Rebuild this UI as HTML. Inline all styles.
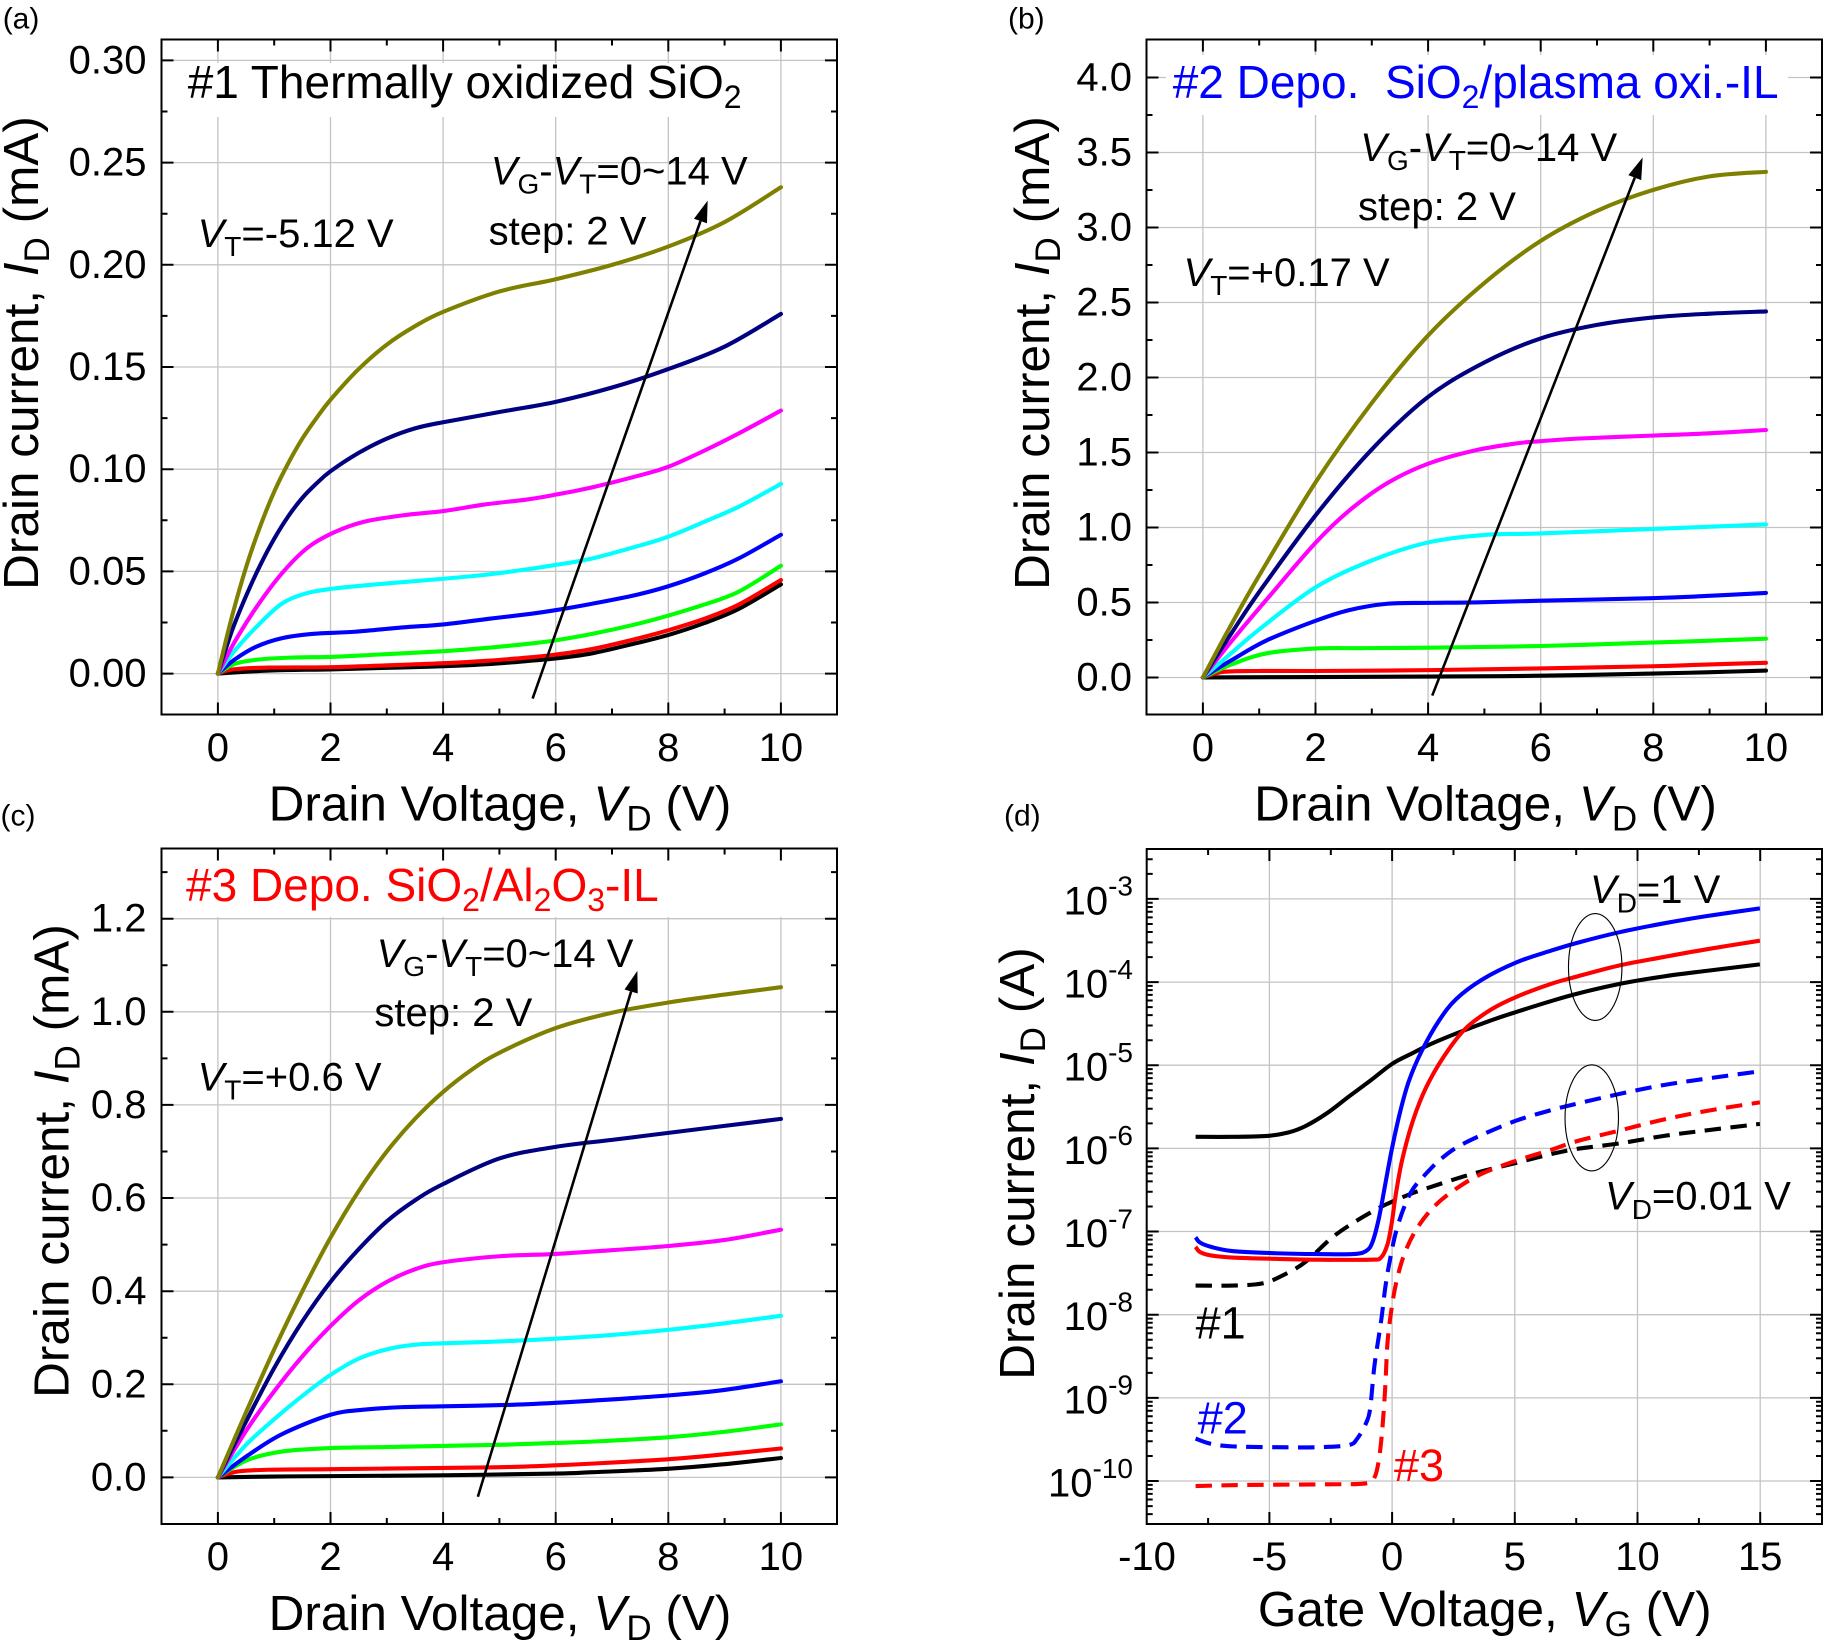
<!DOCTYPE html>
<html><head><meta charset="utf-8"><style>
html,body{margin:0;padding:0;background:#fff;}
svg{display:block;font-family:"Liberation Sans",Arial,sans-serif;}
</style></head><body>
<svg id="fig" width="1825" height="1644" viewBox="0 0 1825 1644" xmlns="http://www.w3.org/2000/svg">
<rect width="1825" height="1644" fill="#fff"/>

<!-- ================= PANEL A ================= -->
<g stroke="#c4c4c4" stroke-width="1.3" fill="none">
<path d="M217.9 39.5V714.5M330.5 39.5V714.5M443.1 39.5V714.5M555.7 39.5V714.5M668.3 39.5V714.5M780.9 39.5V714.5"/>
<path d="M161.5 673.6H837M161.5 571.4H837M161.5 469.2H837M161.5 367H837M161.5 264.8H837M161.5 162.6H837M161.5 60.4H837"/>
</g>
<rect x="183" y="63" width="572" height="54" fill="#fff"/>
<g transform="translate(161,39) scale(0.4311)" fill="none" stroke-width="9.5" stroke-linejoin="round" stroke-linecap="round">
<polyline class="s" stroke="#000" points="132,1472 250,1465 400,1462 550,1458 655,1455 760,1450 860,1442 915,1437 1000,1425 1100,1402 1175,1383 1260,1355 1340,1322 1438,1265"/>
<polyline class="s" stroke="#f00" points="132,1472 170,1462 250,1458 400,1457 550,1452 655,1448 760,1442 860,1434 915,1428 1000,1415 1100,1392 1175,1372 1260,1345 1340,1312 1438,1255"/>
<polyline class="s" stroke="#00ff00" points="132,1472 170,1450 220,1440 300,1435 400,1433 500,1428 655,1420 760,1412 860,1402 915,1395 1000,1380 1100,1358 1175,1338 1260,1312 1340,1282 1438,1222"/>
<polyline class="s" stroke="#00f" points="132,1472 170,1440 220,1410 280,1390 350,1380 450,1375 560,1365 655,1358 760,1345 860,1333 915,1325 1000,1310 1100,1290 1175,1270 1260,1240 1340,1205 1438,1150"/>
<polyline class="s" stroke="#0ff" points="132,1472 170,1420 220,1365 280,1310 340,1285 400,1275 500,1265 655,1252 750,1243 850,1230 915,1220 1000,1205 1100,1178 1175,1155 1260,1120 1340,1085 1438,1032"/>
<polyline class="s" stroke="#f0f" points="132,1472 170,1400 220,1320 280,1240 340,1180 400,1145 470,1120 560,1105 655,1095 750,1080 850,1068 915,1057 1000,1040 1100,1015 1175,993 1260,955 1340,915 1438,862"/>
<polyline class="s" stroke="#000080" points="132,1472 164.7,1372.5 197.3,1291.9 230,1220.8 262.6,1159.2 295.3,1107 327.9,1064.4 360.5,1031.2 393.2,1002.7 458.5,960.1 523.8,926.9 589.1,903.2 654.4,888.9 785,865.3 915.6,841.6 1046.2,808.4 1176.8,765.7 1307.4,713.6 1438,637.8"/>
<polyline class="s" stroke="#808000" points="132,1472 164.7,1339.3 197.3,1225.5 230,1130.7 262.6,1050.1 295.3,983.8 327.9,926.9 360.5,879.5 393.2,836.8 458.5,765.7 523.8,708.9 589.1,666.2 654.4,633 785,585.6 915.6,557.2 1046.2,524 1176.8,481.3 1307.4,424.5 1438,343.9"/>
<line x1="862" y1="1530" x2="1251.4" y2="422.2" stroke="#000" stroke-width="6" stroke-linecap="butt"/>
<polygon points="1268,375 1266.5,427.5 1236.3,416.9" fill="#000" stroke="none"/>
</g>
<g stroke="#000" stroke-width="2" fill="none">
<rect x="161.5" y="39.5" width="675.5" height="675"/>
<path d="M217.9 714.5v-12M330.5 714.5v-12M443.1 714.5v-12M555.7 714.5v-12M668.3 714.5v-12M780.9 714.5v-12M274.2 714.5v-6M386.8 714.5v-6M499.4 714.5v-6M612 714.5v-6M724.6 714.5v-6"/>
<path d="M217.9 39.5v12M330.5 39.5v12M443.1 39.5v12M555.7 39.5v12M668.3 39.5v12M780.9 39.5v12M274.2 39.5v6M386.8 39.5v6M499.4 39.5v6M612 39.5v6M724.6 39.5v6"/>
<path d="M161.5 673.6h12M161.5 571.4h12M161.5 469.2h12M161.5 367h12M161.5 264.8h12M161.5 162.6h12M161.5 60.4h12M161.5 622.5h6M161.5 520.3h6M161.5 418.1h6M161.5 315.9h6M161.5 213.7h6M161.5 111.5h6"/>
<path d="M837 673.6h-12M837 571.4h-12M837 469.2h-12M837 367h-12M837 264.8h-12M837 162.6h-12M837 60.4h-12M837 622.5h-6M837 520.3h-6M837 418.1h-6M837 315.9h-6M837 213.7h-6M837 111.5h-6"/>
</g>
<g font-size="40" fill="#000">
<g text-anchor="end">
<text x="146.5" y="686.6">0.00</text><text x="146.5" y="584.4">0.05</text><text x="146.5" y="482.2">0.10</text><text x="146.5" y="380">0.15</text><text x="146.5" y="277.8">0.20</text><text x="146.5" y="175.6">0.25</text><text x="146.5" y="73.4">0.30</text>
</g>
<g text-anchor="middle">
<text x="217.9" y="761">0</text><text x="330.5" y="761">2</text><text x="443.1" y="761">4</text><text x="555.7" y="761">6</text><text x="668.3" y="761">8</text><text x="780.9" y="761">10</text>
</g>
<text x="197.6" y="247.2"><tspan font-style="italic">V</tspan><tspan font-size="28" dy="9">T</tspan><tspan dy="-9">=-5.12 V</tspan></text>
<text x="490.8" y="184.7"><tspan font-style="italic">V</tspan><tspan font-size="28" dy="9">G</tspan><tspan dy="-9">-</tspan><tspan font-style="italic">V</tspan><tspan font-size="28" dy="9">T</tspan><tspan dy="-9">=0~14 V</tspan></text>
<text x="488.6" y="244.6">step: 2 V</text>
</g>
<text x="187.7" y="98" font-size="46">#1 Thermally oxidized SiO<tspan font-size="32" dy="10">2</tspan></text>
<text x="2.7" y="28.6" font-size="30">(a)</text>
<text transform="translate(38,353) rotate(-90)" text-anchor="middle" font-size="49.5">Drain current, <tspan font-style="italic">I</tspan><tspan font-size="35" dy="11">D</tspan><tspan dy="-11"> (mA)</tspan></text>
<text x="500" y="820.5" text-anchor="middle" font-size="49.5">Drain Voltage, <tspan font-style="italic">V</tspan><tspan font-size="35" dy="10">D</tspan><tspan dy="-10"> (V)</tspan></text>

<!-- ================= PANEL B ================= -->
<g stroke="#c4c4c4" stroke-width="1.3" fill="none">
<path d="M1202.9 39.5V714.5M1315.5 39.5V714.5M1428.1 39.5V714.5M1540.7 39.5V714.5M1653.3 39.5V714.5M1765.9 39.5V714.5"/>
<path d="M1146.5 677.5H1822M1146.5 602.5H1822M1146.5 527.5H1822M1146.5 452.5H1822M1146.5 377.5H1822M1146.5 302.5H1822M1146.5 227.5H1822M1146.5 152.5H1822M1146.5 77.5H1822"/>
</g>
<rect x="1166" y="55" width="622" height="60" fill="#fff"/>
<g transform="translate(1146,39) scale(0.4311)" fill="none" stroke-width="9.5" stroke-linejoin="round" stroke-linecap="round">
<polyline class="s" stroke="#000" points="132,1481 392,1480 655,1479 915,1477 1175,1472 1300,1469 1438,1465"/>
<polyline class="s" stroke="#f00" points="132,1481 180,1468 260,1466 392,1466 655,1464 915,1460 1175,1455 1300,1451 1438,1447"/>
<polyline class="s" stroke="#00ff00" points="132,1481 200,1450 280,1425 392,1414 500,1413 655,1412 915,1408 1175,1400 1300,1396 1438,1391"/>
<polyline class="s" stroke="#00f" points="132,1481 200,1440 280,1395 392,1350 470,1325 560,1310 655,1308 760,1307 915,1303 1175,1297 1300,1292 1438,1285"/>
<polyline class="s" stroke="#0ff" points="132,1481 197.3,1425 262.6,1369.6 393.2,1272 523.8,1209.6 654.4,1167.8 785,1150.4 915.6,1146.9 1176.8,1136.5 1438,1126"/>
<polyline class="s" stroke="#f0f" points="132,1481 200,1395 280,1300 392,1170 470,1095 560,1030 655,985 760,955 860,938 915,933 1000,927 1175,920 1300,915 1438,907"/>
<polyline class="s" stroke="#000080" points="132,1481 197.3,1380 262.6,1282.6 393.2,1105.2 523.8,952 654.4,830.2 785,750.2 915.6,694.5 1046.2,663.2 1176.8,645.8 1307.4,637.1 1438,631.9"/>
<polyline class="s" stroke="#808000" points="132,1481 197.3,1359.2 262.6,1244.4 393.2,1028.6 523.8,844.2 654.4,687.6 785,565.8 915.6,468.3 1046.2,398.7 1176.8,350 1307.4,318.7 1438,308.2"/>
<line x1="664" y1="1523" x2="1133.8" y2="321.6" stroke="#000" stroke-width="6" stroke-linecap="butt"/>
<polygon points="1152,275 1148.7,327.4 1118.9,315.8" fill="#000" stroke="none"/>
</g>
<g stroke="#000" stroke-width="2" fill="none">
<rect x="1146.5" y="39.5" width="675.5" height="675"/>
<path d="M1202.9 714.5v-12M1315.5 714.5v-12M1428.1 714.5v-12M1540.7 714.5v-12M1653.3 714.5v-12M1765.9 714.5v-12M1259.2 714.5v-6M1371.8 714.5v-6M1484.4 714.5v-6M1597 714.5v-6M1709.6 714.5v-6"/>
<path d="M1202.9 39.5v12M1315.5 39.5v12M1428.1 39.5v12M1540.7 39.5v12M1653.3 39.5v12M1765.9 39.5v12M1259.2 39.5v6M1371.8 39.5v6M1484.4 39.5v6M1597 39.5v6M1709.6 39.5v6"/>
<path d="M1146.5 677.5h12M1146.5 602.5h12M1146.5 527.5h12M1146.5 452.5h12M1146.5 377.5h12M1146.5 302.5h12M1146.5 227.5h12M1146.5 152.5h12M1146.5 77.5h12M1146.5 640h6M1146.5 565h6M1146.5 490h6M1146.5 415h6M1146.5 340h6M1146.5 265h6M1146.5 190h6M1146.5 115h6"/>
<path d="M1822 677.5h-12M1822 602.5h-12M1822 527.5h-12M1822 452.5h-12M1822 377.5h-12M1822 302.5h-12M1822 227.5h-12M1822 152.5h-12M1822 77.5h-12M1822 640h-6M1822 565h-6M1822 490h-6M1822 415h-6M1822 340h-6M1822 265h-6M1822 190h-6M1822 115h-6"/>
</g>
<g font-size="40" fill="#000">
<g text-anchor="end">
<text x="1132" y="690.5">0.0</text><text x="1132" y="615.5">0.5</text><text x="1132" y="540.5">1.0</text><text x="1132" y="465.5">1.5</text><text x="1132" y="390.5">2.0</text><text x="1132" y="315.5">2.5</text><text x="1132" y="240.5">3.0</text><text x="1132" y="165.5">3.5</text><text x="1132" y="90.5">4.0</text>
</g>
<g text-anchor="middle">
<text x="1202.9" y="761">0</text><text x="1315.5" y="761">2</text><text x="1428.1" y="761">4</text><text x="1540.7" y="761">6</text><text x="1653.3" y="761">8</text><text x="1765.9" y="761">10</text>
</g>
<text x="1183.5" y="286"><tspan font-style="italic">V</tspan><tspan font-size="28" dy="9">T</tspan><tspan dy="-9">=+0.17 V</tspan></text>
<text x="1360.3" y="161"><tspan font-style="italic">V</tspan><tspan font-size="28" dy="9">G</tspan><tspan dy="-9">-</tspan><tspan font-style="italic">V</tspan><tspan font-size="28" dy="9">T</tspan><tspan dy="-9">=0~14 V</tspan></text>
<text x="1358" y="220">step: 2 V</text>
</g>
<text x="1172.7" y="98" font-size="46" fill="#0000ff">#2 Depo.&#160; SiO<tspan font-size="32" dy="10">2</tspan><tspan dy="-10">/plasma oxi.-IL</tspan></text>
<text x="1008" y="28.6" font-size="30">(b)</text>
<text transform="translate(1049,353) rotate(-90)" text-anchor="middle" font-size="49.5">Drain current, <tspan font-style="italic">I</tspan><tspan font-size="35" dy="11">D</tspan><tspan dy="-11"> (mA)</tspan></text>
<text x="1485.5" y="820.5" text-anchor="middle" font-size="49.5">Drain Voltage, <tspan font-style="italic">V</tspan><tspan font-size="35" dy="10">D</tspan><tspan dy="-10"> (V)</tspan></text>

<!-- ================= PANEL C ================= -->
<g stroke="#c4c4c4" stroke-width="1.3" fill="none">
<path d="M217.9 848.5V1524M330.5 848.5V1524M443.1 848.5V1524M555.7 848.5V1524M668.3 848.5V1524M780.9 848.5V1524"/>
<path d="M161.5 1477.4H837M161.5 1384.3H837M161.5 1291.2H837M161.5 1198H837M161.5 1104.9H837M161.5 1011.8H837M161.5 918.7H837"/>
</g>
<rect x="178" y="851" width="626" height="66" fill="#fff"/>
<g transform="translate(161,848) scale(0.4311)" fill="none" stroke-width="9.5" stroke-linejoin="round" stroke-linecap="round">
<polyline class="s" stroke="#000" points="132,1460 260,1458 392,1457 655,1455 915,1451 1000,1448 1175,1440 1300,1430 1438,1415"/>
<polyline class="s" stroke="#f00" points="132,1460 180,1446 260,1442 392,1441 655,1438 800,1436 915,1432 1000,1428 1175,1418 1300,1407 1438,1393"/>
<polyline class="s" stroke="#00ff00" points="132,1460 200,1420 280,1400 392,1392 500,1390 655,1387 800,1384 915,1380 1000,1377 1175,1367 1300,1355 1438,1337"/>
<polyline class="s" stroke="#00f" points="132,1460 200,1410 280,1360 392,1315 470,1303 560,1297 655,1295 800,1292 915,1287 1000,1282 1175,1270 1300,1258 1438,1237"/>
<polyline class="s" stroke="#0ff" points="132,1460 197.3,1384.4 262.6,1325 327.9,1271 393.2,1222.4 458.5,1184.6 523.8,1163 589.1,1152.2 654.4,1149 785,1144.6 915.6,1138.2 1046.2,1129.5 1176.8,1117.6 1307.4,1102.5 1438,1085.2"/>
<polyline class="s" stroke="#f0f" points="132,1460 197.3,1352 262.6,1260.2 327.9,1179.2 393.2,1109 458.5,1049.6 523.8,1006.4 589.1,977.2 654.4,961 785,947 915.6,941.6 1046.2,932.9 1176.8,923.2 1307.4,909.2 1438,885.4"/>
<polyline class="s" stroke="#000080" points="132,1460 197.3,1330.4 262.6,1206.2 327.9,1098.2 393.2,1006.4 458.5,930.8 523.8,866 589.1,817.4 654.4,779.6 785,720.2 915.6,693.2 1046.2,677 1176.8,660.8 1307.4,644.6 1438,628.4"/>
<polyline class="s" stroke="#808000" points="132,1460 197.3,1308.8 262.6,1163 327.9,1028 393.2,903.8 458.5,795.8 523.8,704 589.1,628.4 654.4,565.8 719.7,515 785,475 915.6,417.8 1046.2,382.2 1176.8,358.4 1307.4,340 1438,322.8"/>
<line x1="735" y1="1505" x2="1090.5" y2="332.8" stroke="#000" stroke-width="6" stroke-linecap="butt"/>
<polygon points="1105,285 1105.8,337.4 1075.2,328.2" fill="#000" stroke="none"/>
</g>
<g stroke="#000" stroke-width="2" fill="none">
<rect x="161.5" y="848.5" width="675.5" height="675.5"/>
<path d="M217.9 1524v-12M330.5 1524v-12M443.1 1524v-12M555.7 1524v-12M668.3 1524v-12M780.9 1524v-12M274.2 1524v-6M386.8 1524v-6M499.4 1524v-6M612 1524v-6M724.6 1524v-6"/>
<path d="M217.9 848.5v12M330.5 848.5v12M443.1 848.5v12M555.7 848.5v12M668.3 848.5v12M780.9 848.5v12M274.2 848.5v6M386.8 848.5v6M499.4 848.5v6M612 848.5v6M724.6 848.5v6"/>
<path d="M161.5 1477.4h12M161.5 1384.3h12M161.5 1291.2h12M161.5 1198h12M161.5 1104.9h12M161.5 1011.8h12M161.5 918.7h12M161.5 1430.8h6M161.5 1337.7h6M161.5 1244.6h6M161.5 1151.5h6M161.5 1058.4h6M161.5 965.2h6M161.5 872.1h6"/>
<path d="M837 1477.4h-12M837 1384.3h-12M837 1291.2h-12M837 1198h-12M837 1104.9h-12M837 1011.8h-12M837 918.7h-12M837 1430.8h-6M837 1337.7h-6M837 1244.6h-6M837 1151.5h-6M837 1058.4h-6M837 965.2h-6M837 872.1h-6"/>
</g>
<g font-size="40" fill="#000">
<g text-anchor="end">
<text x="146.5" y="1490.4">0.0</text><text x="146.5" y="1397.3">0.2</text><text x="146.5" y="1304.2">0.4</text><text x="146.5" y="1211">0.6</text><text x="146.5" y="1117.9">0.8</text><text x="146.5" y="1024.8">1.0</text><text x="146.5" y="931.7">1.2</text>
</g>
<g text-anchor="middle">
<text x="217.9" y="1570">0</text><text x="330.5" y="1570">2</text><text x="443.1" y="1570">4</text><text x="555.7" y="1570">6</text><text x="668.3" y="1570">8</text><text x="780.9" y="1570">10</text>
</g>
<text x="197.6" y="1090.7"><tspan font-style="italic">V</tspan><tspan font-size="28" dy="9">T</tspan><tspan dy="-9">=+0.6 V</tspan></text>
<text x="376.6" y="967"><tspan font-style="italic">V</tspan><tspan font-size="28" dy="9">G</tspan><tspan dy="-9">-</tspan><tspan font-style="italic">V</tspan><tspan font-size="28" dy="9">T</tspan><tspan dy="-9">=0~14 V</tspan></text>
<text x="374.4" y="1026">step: 2 V</text>
</g>
<text x="186" y="901" font-size="46" fill="#ff0000">#3 Depo. SiO<tspan font-size="32" dy="10">2</tspan><tspan dy="-10">/Al</tspan><tspan font-size="32" dy="10">2</tspan><tspan dy="-10">O</tspan><tspan font-size="32" dy="10">3</tspan><tspan dy="-10">-IL</tspan></text>
<text x="0.5" y="825.6" font-size="30">(c)</text>
<text transform="translate(68.6,1161) rotate(-90)" text-anchor="middle" font-size="49.5">Drain current, <tspan font-style="italic">I</tspan><tspan font-size="35" dy="11">D</tspan><tspan dy="-11"> (mA)</tspan></text>
<text x="500" y="1630" text-anchor="middle" font-size="49.5">Drain Voltage, <tspan font-style="italic">V</tspan><tspan font-size="35" dy="10">D</tspan><tspan dy="-10"> (V)</tspan></text>

<!-- ================= PANEL D ================= -->
<g stroke="#c4c4c4" stroke-width="1.3" fill="none">
<path d="M1269.4 849V1524M1392.1 849V1524M1514.8 849V1524M1637.5 849V1524M1760.2 849V1524"/>
<path d="M1146.7 898.9H1822M1146.7 982.1H1822M1146.7 1065.2H1822M1146.7 1148.4H1822M1146.7 1231.5H1822M1146.7 1314.7H1822M1146.7 1397.9H1822M1146.7 1481H1822"/>
</g>
<g transform="translate(1146,848) scale(0.4311)" fill="none" stroke-width="9.5" stroke-linejoin="round">
<polyline class="s" stroke="#000" stroke-dasharray="38 22" points="115,1015 200,1015 270,1010 320,990 370,960 430,905 480,870 540,835 572,820 620,800 680,780 760,755 860,730 940,710 1000,698 1100,685 1200,668 1300,655 1424,640"/>
<polyline class="s" stroke="#f00" stroke-dasharray="38 22" points="115,1480 200,1478 300,1477 420,1476 510,1474 530,1460 540,1420 548,1350 555,1250 560,1150 568,1080 580,1010 600,940 630,880 670,830 720,790 780,755 860,725 940,700 1000,680 1100,655 1200,630 1300,610 1424,590"/>
<polyline class="s" stroke="#00f" stroke-dasharray="38 22" points="115,1370 150,1382 200,1388 300,1390 400,1390 470,1385 490,1370 510,1335 520,1300 530,1200 545,1100 555,1020 565,960 580,890 600,830 620,790 650,755 680,725 720,695 780,665 860,632 940,608 1000,593 1100,570 1200,550 1300,535 1424,518"/>
<polyline class="s" stroke="#000" points="115,670 200,670 280,668 330,660 370,645 420,615 470,577 520,540 572,500 620,475 660,455 720,430 800,400 860,380 940,355 1000,338 1100,315 1200,298 1300,285 1424,270"/>
<polyline class="s" stroke="#f00" points="115,925 125,937 150,945 200,950 300,953 400,955 520,955 545,950 560,920 570,870 580,800 595,720 620,630 650,555 690,485 740,420 800,375 860,345 940,315 1000,298 1100,272 1200,253 1300,235 1424,215"/>
<polyline class="s" stroke="#00f" points="115,903 125,915 150,925 200,935 300,940 400,942 480,942 510,935 525,915 540,860 555,780 570,700 590,610 610,540 640,470 680,400 720,350 780,305 860,265 940,238 1000,220 1100,195 1200,175 1300,158 1424,140"/>
<ellipse cx="1042" cy="276" rx="62" ry="124" stroke="#000" stroke-width="2.6"/>
<ellipse cx="1034" cy="626" rx="62" ry="123" stroke="#000" stroke-width="2.6"/>
</g>
<g stroke="#000" stroke-width="2" fill="none">
<rect x="1146.7" y="849" width="675.3" height="675"/>
<path d="M1269.4 1524v-12M1392.1 1524v-12M1514.8 1524v-12M1637.5 1524v-12M1760.2 1524v-12M1208.1 1524v-6M1330.8 1524v-6M1453.5 1524v-6M1576.2 1524v-6M1698.9 1524v-6"/>
<path d="M1269.4 849v12M1392.1 849v12M1514.8 849v12M1637.5 849v12M1760.2 849v12M1208.1 849v6M1330.8 849v6M1453.5 849v6M1576.2 849v6M1698.9 849v6"/>
<path d="M1146.7 898.9h12M1146.7 982.1h12M1146.7 1065.2h12M1146.7 1148.4h12M1146.7 1231.5h12M1146.7 1314.7h12M1146.7 1397.9h12M1146.7 1481h12"/>
<path d="M1822 898.9h-12M1822 982.1h-12M1822 1065.2h-12M1822 1148.4h-12M1822 1231.5h-12M1822 1314.7h-12M1822 1397.9h-12M1822 1481h-12"/>
<path d="M1146.7 1514.1h6M1146.7 1506.1h6M1146.7 1499.5h6M1146.7 1493.9h6M1146.7 1489.1h6M1146.7 1484.9h6
M1146.7 1456h6M1146.7 1441.3h6M1146.7 1430.9h6M1146.7 1422.9h6M1146.7 1416.3h6M1146.7 1410.7h6M1146.7 1405.9h6M1146.7 1401.7h6
M1146.7 1372.9h6M1146.7 1358.2h6M1146.7 1347.8h6M1146.7 1339.8h6M1146.7 1333.2h6M1146.7 1327.6h6M1146.7 1322.8h6M1146.7 1318.6h6
M1146.7 1289.7h6M1146.7 1275h6M1146.7 1264.6h6M1146.7 1256.6h6M1146.7 1250h6M1146.7 1244.4h6M1146.7 1239.6h6M1146.7 1235.4h6
M1146.7 1206.5h6M1146.7 1191.8h6M1146.7 1181.4h6M1146.7 1173.4h6M1146.7 1166.8h6M1146.7 1161.2h6M1146.7 1156.4h6M1146.7 1152.2h6
M1146.7 1123.4h6M1146.7 1108.7h6M1146.7 1098.3h6M1146.7 1090.3h6M1146.7 1083.7h6M1146.7 1078.1h6M1146.7 1073.3h6M1146.7 1069.1h6
M1146.7 1040.2h6M1146.7 1025.5h6M1146.7 1015.1h6M1146.7 1007.1h6M1146.7 1000.5h6M1146.7 994.9h6M1146.7 990.1h6M1146.7 985.9h6
M1146.7 957.1h6M1146.7 942.4h6M1146.7 932h6M1146.7 924h6M1146.7 917.4h6M1146.7 911.8h6M1146.7 907h6M1146.7 902.8h6
M1146.7 873.9h6M1146.7 859.2h6"/>
<path d="M1822 1514.1h-6M1822 1506.1h-6M1822 1499.5h-6M1822 1493.9h-6M1822 1489.1h-6M1822 1484.9h-6
M1822 1456h-6M1822 1441.3h-6M1822 1430.9h-6M1822 1422.9h-6M1822 1416.3h-6M1822 1410.7h-6M1822 1405.9h-6M1822 1401.7h-6
M1822 1372.9h-6M1822 1358.2h-6M1822 1347.8h-6M1822 1339.8h-6M1822 1333.2h-6M1822 1327.6h-6M1822 1322.8h-6M1822 1318.6h-6
M1822 1289.7h-6M1822 1275h-6M1822 1264.6h-6M1822 1256.6h-6M1822 1250h-6M1822 1244.4h-6M1822 1239.6h-6M1822 1235.4h-6
M1822 1206.5h-6M1822 1191.8h-6M1822 1181.4h-6M1822 1173.4h-6M1822 1166.8h-6M1822 1161.2h-6M1822 1156.4h-6M1822 1152.2h-6
M1822 1123.4h-6M1822 1108.7h-6M1822 1098.3h-6M1822 1090.3h-6M1822 1083.7h-6M1822 1078.1h-6M1822 1073.3h-6M1822 1069.1h-6
M1822 1040.2h-6M1822 1025.5h-6M1822 1015.1h-6M1822 1007.1h-6M1822 1000.5h-6M1822 994.9h-6M1822 990.1h-6M1822 985.9h-6
M1822 957.1h-6M1822 942.4h-6M1822 932h-6M1822 924h-6M1822 917.4h-6M1822 911.8h-6M1822 907h-6M1822 902.8h-6
M1822 873.9h-6M1822 859.2h-6"/>
</g>
<g font-size="40" fill="#000">
<g text-anchor="end">
<text x="1133" y="914.4">10<tspan font-size="28" dy="-18.7">-3</tspan></text>
<text x="1133" y="997.6">10<tspan font-size="28" dy="-18.7">-4</tspan></text>
<text x="1133" y="1080.7">10<tspan font-size="28" dy="-18.7">-5</tspan></text>
<text x="1133" y="1163.9">10<tspan font-size="28" dy="-18.7">-6</tspan></text>
<text x="1133" y="1247">10<tspan font-size="28" dy="-18.7">-7</tspan></text>
<text x="1133" y="1330.2">10<tspan font-size="28" dy="-18.7">-8</tspan></text>
<text x="1133" y="1413.4">10<tspan font-size="28" dy="-18.7">-9</tspan></text>
<text x="1133" y="1496.5">10<tspan font-size="28" dy="-18.7">-10</tspan></text>
</g>
<g text-anchor="middle">
<text x="1147" y="1570">-10</text><text x="1269.4" y="1570">-5</text><text x="1392.1" y="1570">0</text><text x="1514.8" y="1570">5</text><text x="1637.5" y="1570">10</text><text x="1760.2" y="1570">15</text>
</g>
<text x="1590" y="903"><tspan font-style="italic">V</tspan><tspan font-size="28" dy="9.5">D</tspan><tspan dy="-9.5">=1 V</tspan></text>
<text x="1605" y="1209.3"><tspan font-style="italic">V</tspan><tspan font-size="28" dy="9.5">D</tspan><tspan dy="-9.5">=0.01 V</tspan></text>
</g>
<text x="1195.6" y="1338.6" font-size="45" fill="#000">#1</text>
<text x="1197.7" y="1433.4" font-size="45" fill="#0000ff">#2</text>
<text x="1394" y="1481" font-size="45" fill="#ff0000">#3</text>
<text x="1004" y="825.6" font-size="30">(d)</text>
<text transform="translate(1034,1163.5) rotate(-90)" text-anchor="middle" font-size="49.5">Drain current, <tspan font-style="italic">I</tspan><tspan font-size="35" dy="11">D</tspan><tspan dy="-11"> (A)</tspan></text>
<text x="1484.7" y="1626" text-anchor="middle" font-size="49.5">Gate Voltage, <tspan font-style="italic">V</tspan><tspan font-size="35" dy="10">G</tspan><tspan dy="-10"> (V)</tspan></text>
</svg>
<script>
(function(){
  var NS="http://www.w3.org/2000/svg";
  var pls=document.querySelectorAll("polyline.s");
  for(var k=0;k<pls.length;k++){
    var pl=pls[k];
    var raw=pl.getAttribute("points").trim().split(/\s+/);
    var p=[];
    for(var i=0;i<raw.length;i++){var a=raw[i].split(",");p.push([+a[0],+a[1]]);}
    if(p.length<3)continue;
    var d="M"+p[0][0]+" "+p[0][1];
    for(var i=0;i<p.length-1;i++){
      var p0=p[i>0?i-1:0],p1=p[i],p2=p[i+1],p3=p[i+2<p.length?i+2:p.length-1];
      var c1x=p1[0]+(p2[0]-p0[0])/6,c1y=p1[1]+(p2[1]-p0[1])/6;
      var c2x=p2[0]-(p3[0]-p1[0])/6,c2y=p2[1]-(p3[1]-p1[1])/6;
      d+="C"+c1x.toFixed(1)+" "+c1y.toFixed(1)+" "+c2x.toFixed(1)+" "+c2y.toFixed(1)+" "+p2[0]+" "+p2[1];
    }
    var path=document.createElementNS(NS,"path");
    for(var j=0;j<pl.attributes.length;j++){
      var at=pl.attributes[j];
      if(at.name!=="points"&&at.name!=="class")path.setAttribute(at.name,at.value);
    }
    path.setAttribute("d",d);
    pl.parentNode.replaceChild(path,pl);
  }
})();
</script>
</body></html>
